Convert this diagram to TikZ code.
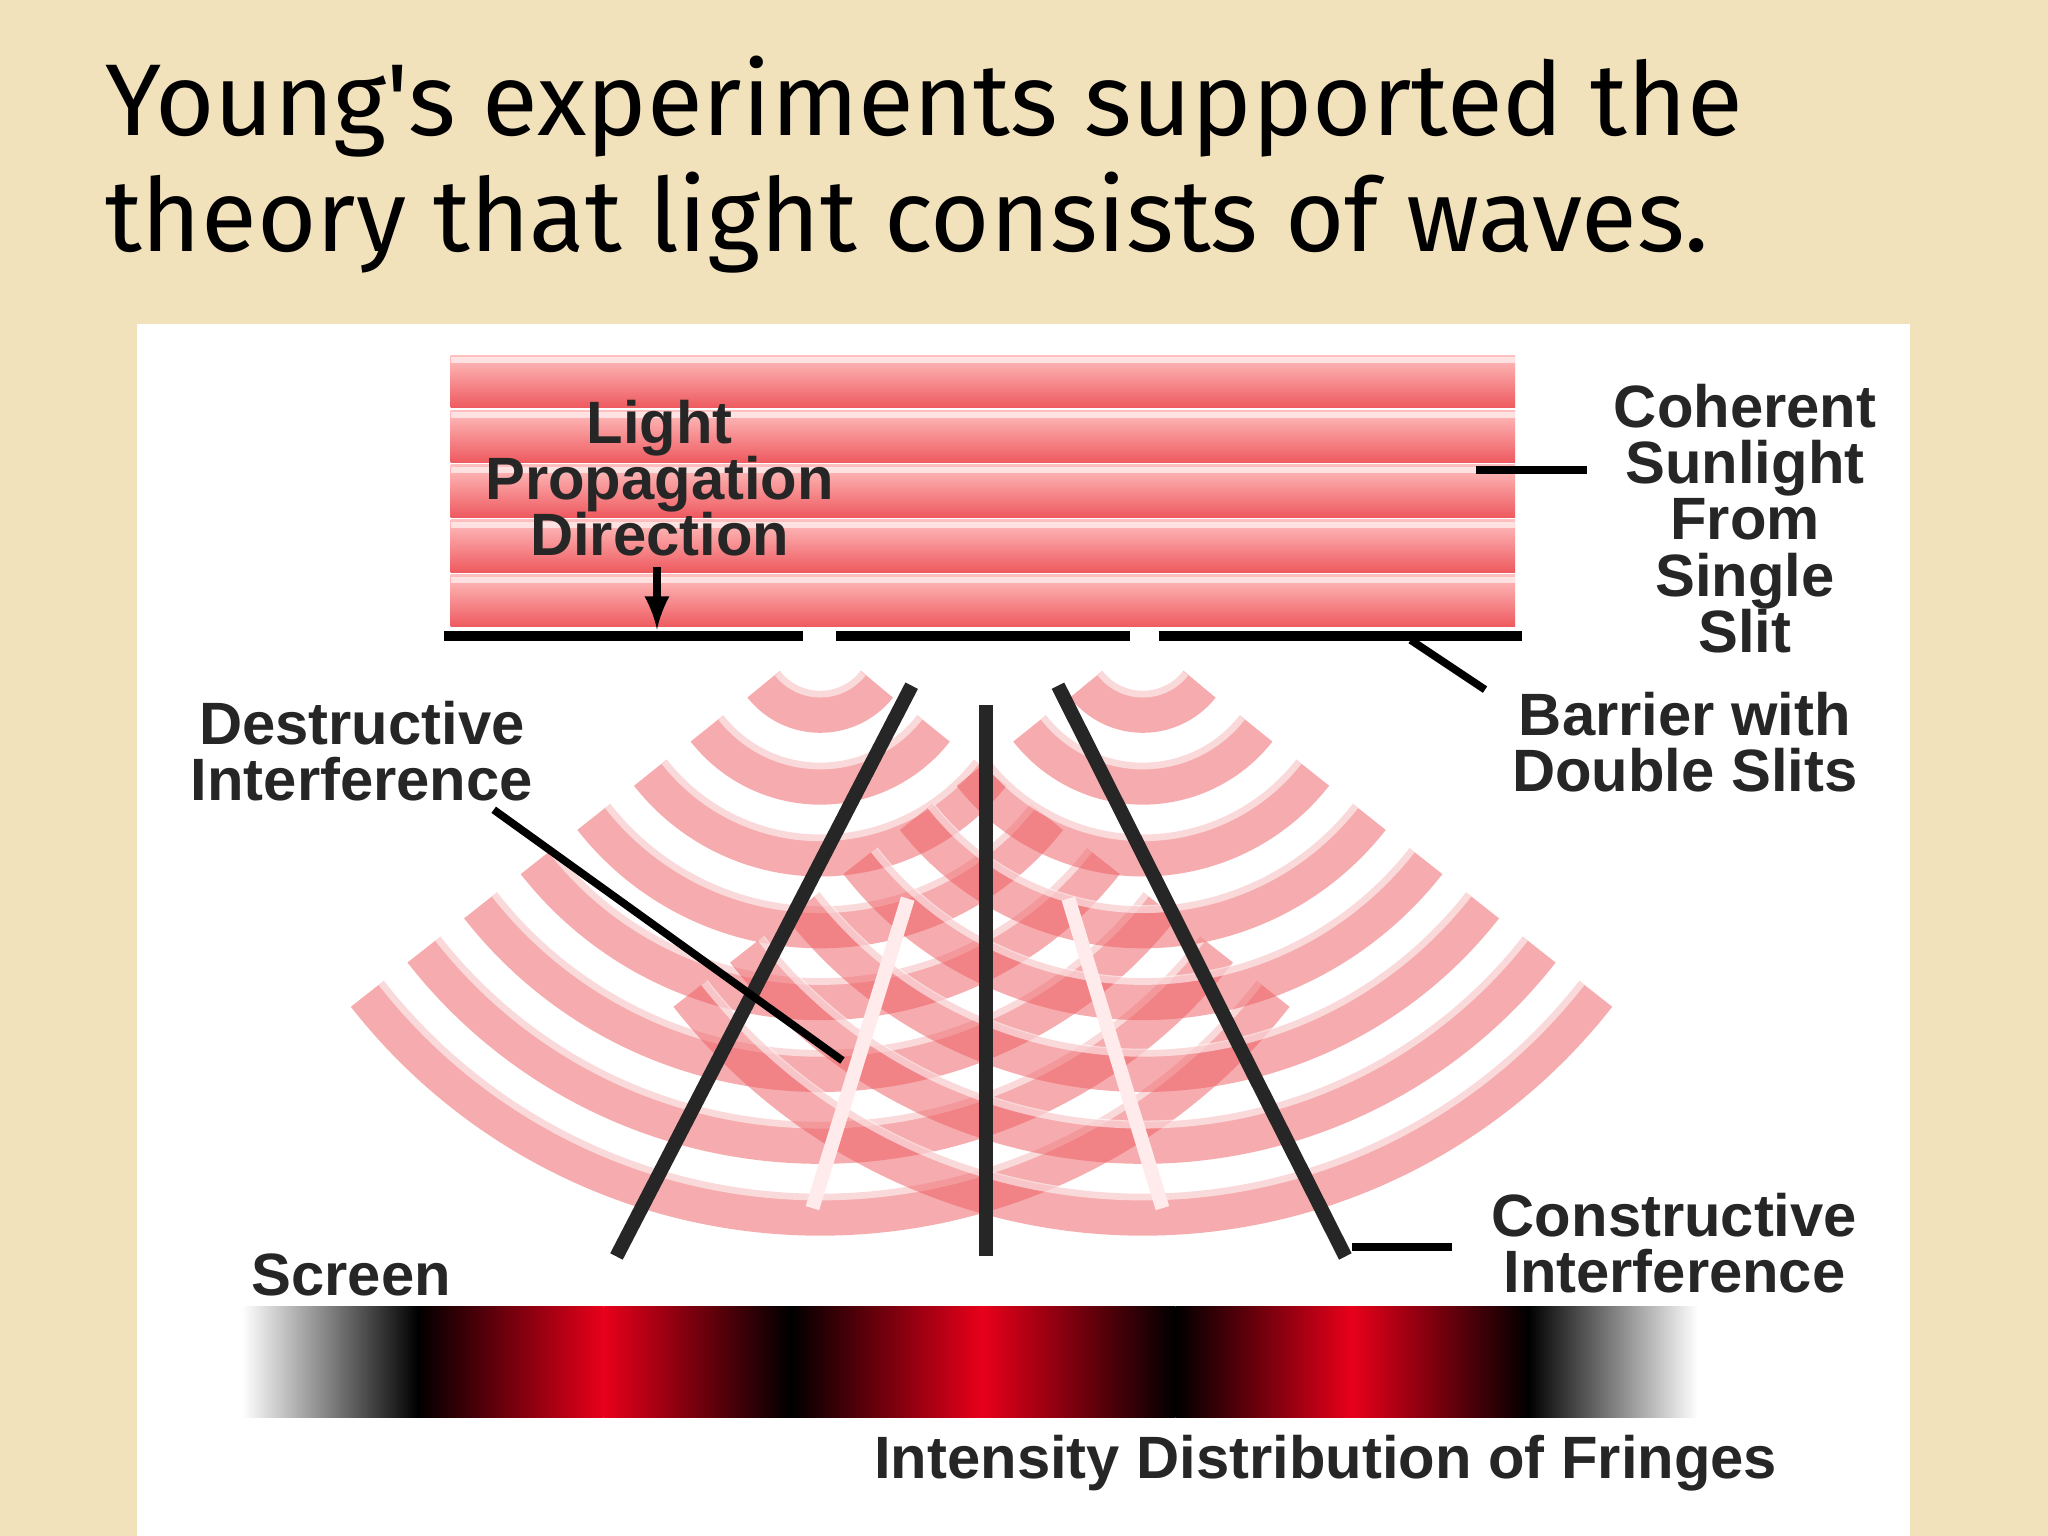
\documentclass[tikz,border=0pt]{standalone}
\usepackage{fontspec}
\setmainfont{Liberation Sans}
\newfontfamily\titlefont{Fira Sans}
\definecolor{beige}{HTML}{F1E2BC}
\definecolor{wavered}{HTML}{EE5A5F}
\definecolor{fringe}{HTML}{E8001A}
\begin{document}
\begin{tikzpicture}[
    lbl/.style={font=\bfseries\fontsize{17}{16}\selectfont, align=center, text=black!85, inner sep=0pt},
    pointer/.style={line width=2.2pt, black},
    ray/.style={line width=4pt, black!85},
    paleray/.style={line width=4pt, red!8},
    wavearc/.style={line width=0.42cm, wavered, opacity=.5},
    wavelight/.style={line width=0.08cm, white, opacity=.55}
        ]

    \path [fill=beige, use as bounding box] (0,0) rectangle (20.48,15.36);

    \begin{scope}[shift={(0,15.36)}, x=0.01306cm, y=-0.01306cm]

        \node [anchor=north west, align=left, inner sep=0pt, font=\titlefont\fontsize{29}{33}\selectfont]
            (title) at (80,42) {Young's experiments supported the\\theory that light consists of waves.};

        \fill [white] (105,248) rectangle (1462,1176);

        % incoming plane waves
        \foreach \i in {0,...,4} {
            \shade [top color=red!25, bottom color=wavered]
                (345,{272+42*\i}) rectangle (1160,{312+42*\i});
            \draw [white, line width=0.06cm, opacity=.6] (345,{276+42*\i}) -- (1160,{276+42*\i});
        }

        % circular waves behind the slits
        \begin{scope}
            \clip (628,490) -- (140,830) -- (400,1000) -- (1100,1000) -- (1370,830) -- (875,490) -- cycle;
            \foreach \s in {628,875} {
                \foreach \r in {55,110,...,440} {
                    \draw [wavearc] (\s,490) ++(38:\r) arc [start angle=38, end angle=142, radius=\r];
                    \draw [wavelight] (\s,490) ++(38:\r-14) arc [start angle=38, end angle=142, radius=\r-14];
                }
            }
        \end{scope}

        % barrier with double slits
        \coordinate (b1) at (340,487);
        \coordinate (b2) at (615,487);
        \coordinate (b3) at (640,487);
        \coordinate (b4) at (865,487);
        \coordinate (b5) at (887,487);
        \coordinate (b6) at (1165,487);
        \draw [line width=3pt] (b1) -- (b2) (b3) -- (b4) (b5) -- (b6);

        % rays
        \coordinate (r1s) at (698,525);  \coordinate (r1e) at (472,962);
        \coordinate (r2s) at (755,540);  \coordinate (r2e) at (755,962);
        \coordinate (r3s) at (810,525);  \coordinate (r3e) at (1030,962);
        \coordinate (p1s) at (695,688);  \coordinate (p1e) at (622,925);
        \coordinate (p2s) at (818,688);  \coordinate (p2e) at (890,925);
        \draw [paleray] (p1s) -- (p1e);
        \draw [paleray] (p2s) -- (p2e);
        \draw [ray] (r1s) -- (r1e);
        \draw [ray] (r2s) -- (r2e);
        \draw [ray] (r3s) -- (r3e);

        % intensity of fringes
        \shade [left color=white, right color=black] (185,1000) rectangle (320,1085);
        \shade [left color=black, right color=fringe] (320,1000) rectangle (462,1085);
        \shade [left color=fringe, right color=black] (462,1000) rectangle (605,1085);
        \shade [left color=black, right color=fringe] (605,1000) rectangle (752,1085);
        \shade [left color=fringe, right color=black] (752,1000) rectangle (900,1085);
        \shade [left color=black, right color=fringe] (900,1000) rectangle (1035,1085);
        \shade [left color=fringe, right color=black] (1035,1000) rectangle (1170,1085);
        \shade [left color=black, right color=white] (1170,1000) rectangle (1300,1085);

        % labels
        \node [lbl] (light) at (505,366) {Light\\Propagation\\Direction};
        \node [lbl] (coherent) at (1336,397) {Coherent\\Sunlight\\From\\Single\\Slit};
        \node [lbl] (barrier) at (1290,568) {Barrier with\\Double Slits};
        \node [lbl] (destructive) at (277,575) {Destructive\\Interference};
        \node [lbl] (constructive) at (1282,952) {Constructive\\Interference};
        \node [lbl, anchor=west] (screen) at (192,976) {Screen};
        \node [lbl] (fringes) at (1015,1120) {Intensity Distribution of Fringes};

        \coordinate (arrowtip) at (503,482);
        \coordinate (cohend) at (1130,360);
        \coordinate (barend) at (1080,490);
        \coordinate (desend) at (645,812);
        \coordinate (conend) at (1035,955);

        \draw [pointer, -latex] (light.south -| arrowtip) ++(0,8) -- (arrowtip);
        \draw [pointer] (1215,360) -- (cohend);
        \draw [pointer] (1137,528) -- (barend);
        \draw [pointer] (378,620) -- (desend);
        \draw [pointer] (1112,955) -- (conend);

    \end{scope}

\end{tikzpicture}
\end{document}
